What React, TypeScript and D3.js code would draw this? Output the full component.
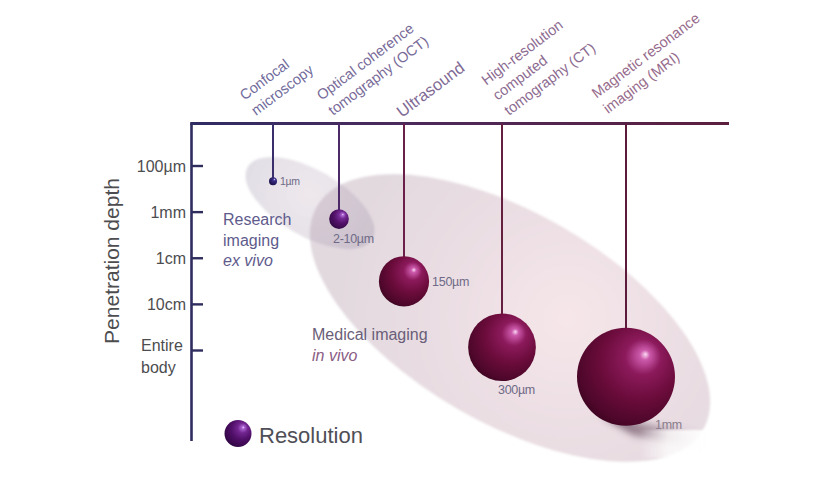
import React from "react";
import * as d3 from "d3";

// ---------- data ----------
const techniques = [
  "Confocal microscopy",
  "Optical coherence tomography (OCT)",
  "Ultrasound",
  "High-resolution computed tomography (CT)",
  "Magnetic resonance imaging (MRI)",
];
const techniqueLines = [
  ["Confocal", "microscopy"],
  ["Optical coherence", "tomography (OCT)"],
  ["Ultrasound"],
  ["High-resolution", "computed", "tomography (CT)"],
  ["Magnetic resonance", "imaging (MRI)"],
];
const depthTicks = ["100µm", "1mm", "1cm", "10cm", "Entire body"];
// penetration depth expressed in tick units (0 = 100µm ... 4 = entire body)
const penetration = [0.33, 1.15, 2.5, 3.93, 4.57];
// resolution in micrometres
const resolutionUm = [1, 6, 150, 300, 1000];
const resolutionText = ["1µm", "2-10µm", "150µm", "300µm", "1mm"];
const sphereTone = ["navy", "purple", "maroon", "maroon", "maroon"];

// ---------- layout ----------
const W = 840;
const H = 488;
const AXIS_X = 191.5;
const AXIS_TOP = 123.5;
const AXIS_BOTTOM = 441;
const AXIS_RIGHT = 729;
const COLUMN_X = [273, 339, 404, 502, 626];
const LABEL_OFFSET = [
  [-17, 116],
  [-6, 116],
  [-2, 118],
  [7, 116],
  [-18, 114],
];
const LABEL_SIZE = [14.5, 14.5, 16.5, 14.5, 14.5];
const VALUE_OFFSET = [
  [7, 4],
  [-6, 14],
  [3, 5],
  [-4, 13],
  [29, 3],
];
const STEM_COLOR = ["#3a2e6c", "#4c2a6a", "#6a2048", "#66203f", "#5c1b3a"];
const FONT = "'Liberation Sans', Arial, Helvetica, sans-serif";

const y = d3.scaleLinear().domain([0, 4]).range([166, 350.5]);
const x = d3.scaleOrdinal<string, number>().domain(techniques).range(COLUMN_X);
const r = d3.scaleLog().domain([1, 10, 100, 1000]).range([4, 11.5, 20, 49]);

const tones: Record<string, string[]> = {
  maroon: ["#fbd8f2", "#cc5aac", "#8c1a5c", "#6c0c3c", "#4e072a", "#34031b"],
  purple: ["#f0d8ff", "#b068d4", "#742a94", "#521068", "#3a0a4e", "#280536"],
  navy: ["#d8d6ff", "#7a70c8", "#3c2e86", "#2a1f68", "#1e1550", "#140e3a"],
  legend: ["#eed6ff", "#ac64d4", "#722690", "#500f68", "#38084c", "#26043a"],
};

function SphereGradient({ id, tone }: { id: string; tone: string }) {
  const c = tones[tone];
  return (
    <radialGradient id={id} cx="0.6" cy="0.38" r="0.72" fx="0.7" fy="0.27">
      <stop offset="0" stopColor={c[0]} />
      <stop offset="0.07" stopColor={c[1]} />
      <stop offset="0.25" stopColor={c[2]} />
      <stop offset="0.55" stopColor={c[3]} />
      <stop offset="0.84" stopColor={c[4]} />
      <stop offset="1" stopColor={c[5]} />
    </radialGradient>
  );
}

export default function App() {
  const lh = 19;
  const angle = -37;
  const labelColor = d3.interpolateRgb("#6d6a9c", "#9a6a8a");
  return (
    <svg
      width={W}
      height={H}
      viewBox={`0 0 ${W} ${H}`}
      style={{ position: "absolute", left: 0, top: 0, background: "#fff" }}
      fontFamily={FONT}
    >
      <defs>
        <SphereGradient id="g-maroon" tone="maroon" />
        <SphereGradient id="g-purple" tone="purple" />
        <SphereGradient id="g-navy" tone="navy" />
        <SphereGradient id="g-legend" tone="legend" />
        <radialGradient id="bigEll" gradientUnits="userSpaceOnUse" cx="560" cy="290" r="230">
          <stop offset="0" stopColor="#f6e6e9" />
          <stop offset="0.45" stopColor="#ecdfe4" />
          <stop offset="1" stopColor="#e2d9df" />
        </radialGradient>
        <radialGradient id="smallEll" gradientUnits="userSpaceOnUse" cx="305" cy="195" r="75">
          <stop offset="0" stopColor="rgba(195,175,190,0.28)" />
          <stop offset="1" stopColor="rgba(155,145,170,0.31)" />
        </radialGradient>
        <linearGradient id="topAxis" gradientUnits="userSpaceOnUse" x1={AXIS_X} x2={AXIS_RIGHT} y1="0" y2="0">
          <stop offset="0" stopColor="#2f2c63" />
          <stop offset="0.4" stopColor="#4c2a5c" />
          <stop offset="1" stopColor="#5c1f3e" />
        </linearGradient>
        <linearGradient id="shadowGrad" x1="0" x2="1" y1="0" y2="0">
          <stop offset="0" stopColor="rgba(80,50,70,0.85)" />
          <stop offset="1" stopColor="rgba(120,90,110,0)" />
        </linearGradient>
        <linearGradient id="whiteFade" x1="0" x2="1" y1="0" y2="0">
          <stop offset="0" stopColor="rgba(255,255,255,0)" />
          <stop offset="0.35" stopColor="rgba(255,255,255,0.75)" />
          <stop offset="1" stopColor="rgba(255,255,255,1)" />
        </linearGradient>
        <filter id="soft" x="-10%" y="-10%" width="120%" height="120%">
          <feGaussianBlur stdDeviation="1.2" />
        </filter>
        <filter id="blur4" x="-50%" y="-50%" width="200%" height="200%">
          <feGaussianBlur stdDeviation="3.5" />
        </filter>
      </defs>

      {/* regions */}
      <ellipse
        cx={510}
        cy={318}
        rx={223}
        ry={105}
        transform="rotate(30 510 318)"
        fill="url(#bigEll)"
        filter="url(#soft)"
      />
      <ellipse
        cx={310}
        cy={203}
        rx={72}
        ry={33}
        transform="rotate(30 310 203)"
        fill="url(#smallEll)"
        filter="url(#soft)"
      />

      {/* MRI shadow */}
      {(() => {
        const i = 4;
        const cx = x(techniques[i]);
        const cy = y(penetration[i]);
        const rr = r(resolutionUm[i]);
        return (
          <path
            d={`M${cx - rr * 0.5},${cy + rr * 0.8} L${cx + rr * 1.6},${cy + rr * 1.15} L${cx + rr * 1.5},${cy + rr * 1.45} L${cx + rr * 0.15},${cy + rr * 1.2} Z`}
            fill="url(#shadowGrad)"
            filter="url(#blur4)"
          />
        );
      })()}

      {/* axes */}
      <line x1={AXIS_X} x2={AXIS_X} y1={AXIS_TOP} y2={AXIS_BOTTOM} stroke="#2f2c5e" strokeWidth={2.6} />
      <line x1={AXIS_X - 1.3} x2={AXIS_RIGHT} y1={AXIS_TOP} y2={AXIS_TOP} stroke="url(#topAxis)" strokeWidth={2.8} />
      {depthTicks.map((t, i) => (
        <line key={t} x1={AXIS_X} x2={AXIS_X + 11.5} y1={y(i)} y2={y(i)} stroke="#2f2c5e" strokeWidth={2.4} />
      ))}
      {depthTicks.map((t, i) =>
        t === "Entire body" ? (
          <text key={t} fontSize={16} fill="#4d4d4f">
            <tspan x={141} y={y(i) + 0.5}>Entire</tspan>
            <tspan x={141} y={y(i) + 22}>body</tspan>
          </text>
        ) : (
          <text key={t} x={186} y={y(i) + 5.5} textAnchor="end" fontSize={16} fill="#4d4d4f">
            {t}
          </text>
        )
      )}
      <text transform={`translate(119,261) rotate(-90)`} textAnchor="middle" fontSize={21} fill="#4d4d4f">
        Penetration depth
      </text>

      {/* stems */}
      {techniques.map((t, i) => (
        <line
          key={t}
          x1={x(t)}
          x2={x(t)}
          y1={AXIS_TOP}
          y2={y(penetration[i]) - r(resolutionUm[i]) * 0.6}
          stroke={STEM_COLOR[i]}
          strokeWidth={2}
        />
      ))}

      {/* spheres */}
      {techniques.map((t, i) => (
        <circle key={t} cx={x(t)} cy={y(penetration[i])} r={r(resolutionUm[i])} fill={`url(#g-${sphereTone[i]})`} />
      ))}

      {/* resolution labels */}
      {techniques.map((t, i) => {
        const rr = r(resolutionUm[i]);
        const [dx, dy] = VALUE_OFFSET[i];
        const cx = x(t);
        const cy = y(penetration[i]);
        const px = i === 2 ? cx + rr + dx : cx + dx;
        const py = i === 0 || i === 2 ? cy + dy : cy + rr + dy;
        return (
          <text
            key={t}
            x={px}
            y={py}
            fontSize={i === 0 ? 10.5 : 12.5}
            fill={i === 4 ? "#8a7c8c" : "#6e6a86"}
            letterSpacing={-0.3}
          >
            {resolutionText[i]}
          </text>
        );
      })}

      {/* white fade at lower right */}
      <rect x={640} y={430} width={80} height={28} fill="url(#whiteFade)" filter="url(#soft)" />

      {/* technique labels */}
      {techniques.map((t, i) => {
        const lines = techniqueLines[i];
        const n = lines.length;
        const sx = x(t) + LABEL_OFFSET[i][0];
        const sy = LABEL_OFFSET[i][1];
        return (
          <text
            key={t}
            transform={`translate(${sx},${sy}) rotate(${angle})`}
            fontSize={LABEL_SIZE[i]}
            fill={labelColor((sx - 240) / 400)}
          >
            {lines.map((ln, j) => (
              <tspan key={ln} x={0} y={-(n - 1 - j) * lh}>
                {ln}
              </tspan>
            ))}
          </text>
        );
      })}

      {/* region captions */}
      <text fontSize={16} fill="#5e5b8c">
        <tspan x={223} y={225}>Research</tspan>
        <tspan x={223} y={245.5}>imaging</tspan>
        <tspan x={223} y={266} fontStyle="italic">ex vivo</tspan>
      </text>
      <text fontSize={16} fill="#6a5e78">
        <tspan x={312} y={340}>Medical imaging</tspan>
        <tspan x={312} y={360.5} fontStyle="italic" fill="#8a5c84">in vivo</tspan>
      </text>

      {/* legend */}
      <circle cx={238} cy={433.5} r={13.5} fill="url(#g-legend)" />
      <text x={259} y={443} fontSize={22} fill="#4f4f57">
        Resolution
      </text>
    </svg>
  );
}
